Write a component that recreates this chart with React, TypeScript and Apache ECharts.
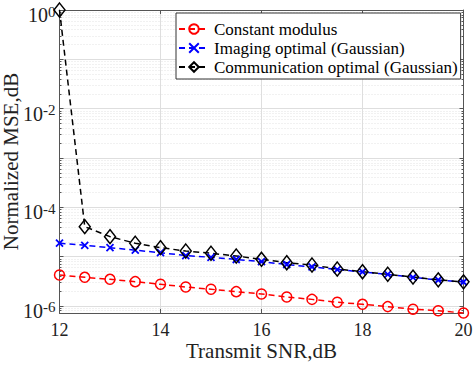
import React, { useEffect, useRef } from "react";
import * as echarts from "echarts";

const snr = [12, 12.5, 13, 13.5, 14, 14.5, 15, 15.5, 16, 16.5, 17, 17.5, 18, 18.5, 19, 19.5, 20];
const constantModulus = [4.25e-6, 3.81e-6, 3.47e-6, 3.11e-6, 2.75e-6, 2.42e-6, 2.18e-6, 1.95e-6, 1.75e-6, 1.52e-6, 1.36e-6, 1.19e-6, 1.08e-6, 9.7e-7, 8.6e-7, 8.0e-7, 7.2e-7];
const imagingOptimal = [1.87e-5, 1.7e-5, 1.52e-5, 1.35e-5, 1.2e-5, 1.05e-5, 9.7e-6, 8.75e-6, 7.9e-6, 6.93e-6, 6.17e-6, 5.48e-6, 4.89e-6, 4.35e-6, 3.81e-6, 3.36e-6, 3.06e-6];
const commOptimal = [1.0, 4.05e-5, 2.54e-5, 1.87e-5, 1.52e-5, 1.3e-5, 1.17e-5, 1.03e-5, 8.84e-6, 7.54e-6, 6.77e-6, 5.62e-6, 4.95e-6, 4.39e-6, 3.85e-6, 3.38e-6, 3.08e-6];
const seriesNames = ["Constant modulus", "Imaging optimal (Gaussian)", "Communication optimal (Gaussian)"];
const xTicks = { min: 12, max: 20, interval: 2 };
const yRange = { min: 7.2e-7, max: 1 };

const FONT = '"Liberation Serif", "Times New Roman", serif';
const AXIS_COLOR = "#555";
const TEXT_COLOR = "#222";

function pair(vals: number[]) {
  return snr.map((x, i) => [x, vals[i]]);
}

export default function App() {
  const ref = useRef<HTMLDivElement>(null);
  useEffect(() => {
    if (!ref.current) return;
    const chart = echarts.init(ref.current, null, { renderer: "svg" });
    const yLabel = (v: number) => {
      const l = Math.log10(v);
      const e = Math.round(l);
      if (Math.abs(l - e) > 1e-6 || e % 2 !== 0) return "";
      return `{b|10}{s|${e}}`;
    };
    const yBase: any = {
      type: "log",
      logBase: 10,
      min: yRange.min,
      max: yRange.max,
      axisLine: { show: true, lineStyle: { color: AXIS_COLOR, width: 1 } },
      axisTick: { show: true, inside: true, length: 4, lineStyle: { color: AXIS_COLOR } },
      minorTick: { show: true, splitNumber: 9, length: 2, lineStyle: { color: AXIS_COLOR } },
    };
    const xBase: any = {
      type: "value",
      min: xTicks.min,
      max: xTicks.max,
      interval: xTicks.interval,
      axisLine: { show: true, onZero: false, lineStyle: { color: AXIS_COLOR, width: 1 } },
      axisTick: { show: true, inside: true, length: 4, lineStyle: { color: AXIS_COLOR } },
    };
    const common = (color: string) => ({
      type: "line",
      clip: false,
      lineStyle: { color, width: 1.5, type: [6, 4] },
    });
    chart.setOption({
      animation: false,
      backgroundColor: "#fff",
      textStyle: { fontFamily: FONT },
      grid: { left: 59.5, right: 10.5, top: 10, bottom: 53, containLabel: false, outerBoundsMode: "none" },
      legend: {
        orient: "vertical",
        left: 176,
        top: 13,
        padding: [7, 3, 3, 2],
        itemGap: 1,
        itemWidth: 30,
        itemHeight: 12,
        backgroundColor: "#fff",
        borderColor: "#333",
        borderWidth: 1,
        textStyle: { fontFamily: FONT, fontSize: 17, lineHeight: 18, color: "#000" },
        data: seriesNames,
      },
      xAxis: [
        {
          ...xBase,
          position: "bottom",
          axisLabel: { color: TEXT_COLOR, fontSize: 18, lineHeight: 18, fontFamily: FONT, margin: 8 },
          splitLine: { show: true, lineStyle: { color: "#dedede", width: 1 } },
          name: "Transmit SNR,dB",
          nameLocation: "middle",
          nameGap: 27,
          nameMoveOverlap: false,
          nameTextStyle: { color: TEXT_COLOR, fontSize: 21, lineHeight: 21, fontFamily: FONT },
        },
        {
          ...xBase,
          position: "top",
          axisLabel: { show: false },
          splitLine: { show: false },
        },
      ],
      yAxis: [
        {
          ...yBase,
          position: "left",
          axisLabel: {
            formatter: yLabel,
            margin: 4,
            fontFamily: FONT,
            rich: {
              b: { fontSize: 20, fontFamily: FONT, color: TEXT_COLOR, padding: [10, 0, 0, 0] },
              s: { fontSize: 15, fontFamily: FONT, color: TEXT_COLOR, padding: [3, 0, 0, 0] },
            },
          },
          splitLine: { show: true, lineStyle: { color: "#dedede", width: 1 } },
          minorSplitLine: { show: true, lineStyle: { color: "#e2e2e2", width: 1, type: [1, 2] } },
          name: "Normalized MSE,dB",
          nameLocation: "middle",
          nameGap: 38,
          nameMoveOverlap: false,
          nameTextStyle: { color: TEXT_COLOR, fontSize: 21, lineHeight: 21, fontFamily: FONT },
        },
        {
          ...yBase,
          position: "right",
          axisLabel: { show: false },
          splitLine: { show: false },
          minorSplitLine: { show: false },
        },
      ],
      series: [
        {
          ...common("#ff0000"),
          name: seriesNames[0],
          data: pair(constantModulus),
          symbol: "circle",
          symbolSize: 10,
          itemStyle: { color: "rgba(255,255,255,0)", borderColor: "#ff0000", borderWidth: 1.5 },
        },
        {
          ...common("#0000ff"),
          name: seriesNames[1],
          data: pair(imagingOptimal),
          symbol: "path://M0,0L10,10M10,0L0,10",
          symbolSize: 7,
          itemStyle: { color: "rgba(0,0,255,0)", borderColor: "#0000ff", borderWidth: 1.8 },
        },
        {
          ...common("#000000"),
          name: seriesNames[2],
          data: pair(commOptimal),
          symbol: "diamond",
          symbolSize: [11, 14],
          itemStyle: { color: "rgba(0,0,0,0)", borderColor: "#000000", borderWidth: 1.5 },
        },
      ],
    });
    return () => chart.dispose();
  }, []);
  return <div ref={ref} style={{ position: "absolute", left: 0, top: 0, width: 474, height: 366 }} />;
}
